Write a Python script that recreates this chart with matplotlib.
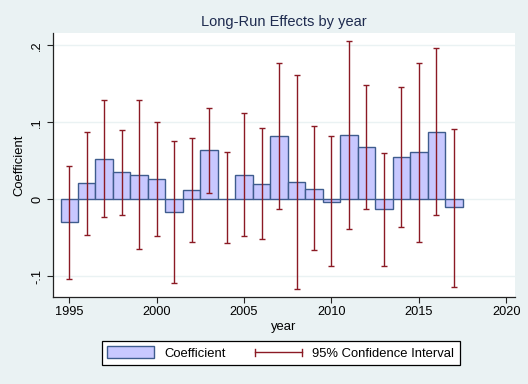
import matplotlib
matplotlib.use("Agg")
import matplotlib.pyplot as plt
from matplotlib.patches import Patch
from matplotlib.lines import Line2D
from matplotlib.legend_handler import HandlerBase
import numpy as np

years = list(range(1995, 2018))
coef = [-0.030, 0.021, 0.052, 0.035, 0.031, 0.026, -0.017, 0.012, 0.064, 0.001,
        0.031, 0.020, 0.082, 0.022, 0.014, -0.003, 0.083, 0.068, -0.013, 0.055,
        0.061, 0.088, -0.010]
ci_low = [-0.103, -0.046, -0.023, -0.020, -0.064, -0.047, -0.109, -0.056, 0.008, -0.057,
          -0.048, -0.052, -0.013, -0.117, -0.066, -0.087, -0.039, -0.012, -0.086, -0.036,
          -0.055, -0.021, -0.114]
ci_high = [0.043, 0.088, 0.129, 0.090, 0.129, 0.100, 0.076, 0.079, 0.118, 0.061,
           0.112, 0.092, 0.177, 0.162, 0.095, 0.082, 0.205, 0.149, 0.060, 0.146,
           0.177, 0.197, 0.091]
xticks = [1995, 2000, 2005, 2010, 2015, 2020]
yticks = [-0.1, 0, 0.1, 0.2]
ytick_labels = ["-.1", "0", ".1", ".2"]

plt.rcParams['font.family'] = ['Liberation Sans', 'DejaVu Sans']

ci_color = '#8B1A24'


class HandlerCI(HandlerBase):
    def create_artists(self, legend, orig_handle, xdescent, ydescent, width, height,
                       fontsize, trans):
        y = height / 2 - ydescent
        x0 = -xdescent
        x1 = -xdescent + width
        h = 2.6
        line = Line2D([x0, x1], [y, y], color=ci_color, lw=1.0, transform=trans)
        c0 = Line2D([x0, x0], [y - h, y + h], color=ci_color, lw=1.0, transform=trans)
        c1 = Line2D([x1, x1], [y - h, y + h], color=ci_color, lw=1.0, transform=trans)
        return [line, c0, c1]


bg = '#EAF2F3'
fig = plt.figure(figsize=(5.28, 3.84), dpi=100, facecolor=bg)
ax = fig.add_axes([0.1004, 0.2273, 0.875, 0.6868])
ax.set_facecolor('white')

ax.bar(years, coef, width=1.0, color='#C8C8FF', edgecolor='#3E5C8E', linewidth=1.0, zorder=2)
yarr = np.array(years)
ax.errorbar(yarr, coef, yerr=[np.array(coef) - np.array(ci_low), np.array(ci_high) - np.array(coef)],
            fmt='none', ecolor=ci_color, elinewidth=1.0, capsize=2.3, capthick=1.0, zorder=3)

ax.set_xlim(1994.07, 2020.5)
ax.set_ylim(-0.1265, 0.216)
ax.set_xticks(xticks)
ax.set_xticklabels([str(t) for t in xticks], fontsize=9.2)
ax.set_yticks(yticks)
ax.set_yticklabels(ytick_labels, fontsize=9.2, rotation=90, va='center')
ax.grid(axis='y', color='#EAF2F3', linewidth=1.0, zorder=0)
ax.set_axisbelow(True)
for s in ['top', 'right']:
    ax.spines[s].set_visible(False)
for s in ['left', 'bottom']:
    ax.spines[s].set_color('#222222')
    ax.spines[s].set_linewidth(0.9)
ax.tick_params(axis='both', length=4, width=0.8, color='#222222', pad=3)
ax.set_xlabel('year', fontsize=9.4, labelpad=2)
ax.set_ylabel('Coefficient', fontsize=9.4, labelpad=4)
ax.set_title('Long-Run Effects by year', fontsize=10.5, color='#1E2B4F', pad=5)

ci_handle = object()
handles = [Patch(facecolor='#C8C8FF', edgecolor='#3E5C8E', linewidth=1.0), ci_handle]
leg = fig.legend(handles, ['Coefficient', '95% Confidence Interval'], loc='center',
                 bbox_to_anchor=(0.532, 0.0806), ncol=2, fontsize=9.4, frameon=True,
                 fancybox=False, edgecolor='black', framealpha=1, handlelength=3.6,
                 handleheight=1.0, columnspacing=2.2, borderpad=0.4,
                 handler_map={ci_handle: HandlerCI()})
leg.get_frame().set_linewidth(0.9)

fig.savefig('out.png', dpi=100, facecolor=bg)
